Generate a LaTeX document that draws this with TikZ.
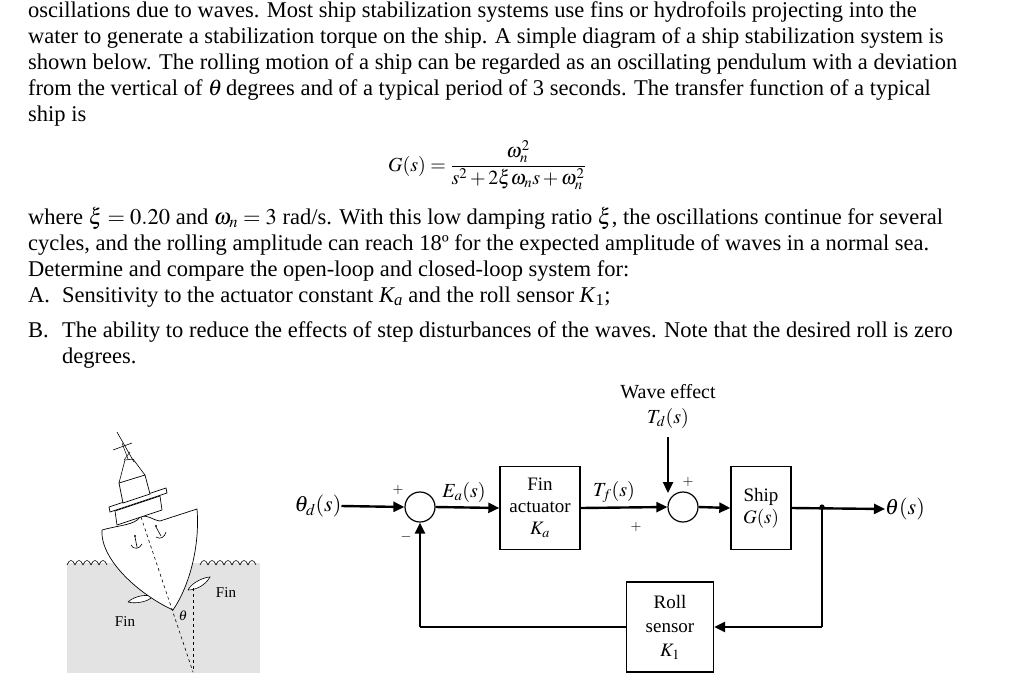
\documentclass[tikz,border=0pt]{standalone}
\usepackage{mathptmx}
\usepackage{fontspec}
\setmainfont{Liberation Serif}
\usetikzlibrary{arrows.meta}
\begin{document}
\begin{tikzpicture}[x=1pt,y=-1pt,
  txt/.style={anchor=base west,inner sep=0pt,font=\fontsize{22.5}{25}\selectfont},
  dtxt/.style={inner sep=0pt,font=\fontsize{20}{22}\selectfont},
  blk/.style={draw,line width=1.4pt,align=center,inner sep=0pt,font=\fontsize{19}{22}\selectfont},
  sumc/.style={draw,circle,minimum size=30pt,inner sep=0pt,line width=1.2pt},
  sig/.style={line width=2.4pt,-{Triangle[length=11pt,width=10pt]}},
  ln/.style={line width=2.4pt}]
\useasboundingbox (0,0) rectangle (1024,688);
\fill[white] (0,0) rectangle (1024,688);
% paragraph
\node[txt] (l1) at (28,17) {oscillations due to waves. Most ship stabilization systems use fins or hydrofoils projecting into the};
\node[txt] (l2) at (28,43) {water to generate a stabilization torque on the ship. A simple diagram of a ship stabilization system is};
\node[txt] (l3) at (28,69) {shown below. The rolling motion of a ship can be regarded as an oscillating pendulum with a deviation};
\node[txt] (l4) at (28,95) {from the vertical of $\theta$\,degrees and of a typical period of 3 seconds. The transfer function of a typical};
\node[txt] (l5) at (28,121) {ship is};
\node[txt,font=\fontsize{20}{22}\selectfont] (eq) at (388,171) {$\displaystyle G(s)=\frac{\omega_n^2}{s^2+2\xi\omega_n s+\omega_n^2}$};
\node[txt] (l6) at (28,224) {where $\xi=0.20$ and $\omega_n=3$ rad/s. With this low damping ratio $\xi$, the oscillations continue for several};
\node[txt] (l7) at (28,250) {cycles, and the rolling amplitude can reach 18º for the expected amplitude of waves in a normal sea.};
\node[txt] (l8) at (28,276) {Determine and compare the open-loop and closed-loop system for:};
\node[txt] (l9) at (28,302) {A.};
\node[txt] (l9b) at (62,302) {Sensitivity to the actuator constant \textit{K\textsubscript{a}} and the roll sensor \textit{K}\textsubscript{1};};
\node[txt] (l10) at (28,337) {B.};
\node[txt] (l10b) at (62,337) {The ability to reduce the effects of step disturbances of the waves. Note that the desired roll is zero};
\node[txt] (l11) at (62,363) {degrees.};
% ship picture
\fill[gray!22] (67,563) rectangle (260,673);
\foreach \x in {67,75,...,99}{\draw[line width=0.6pt] (\x,565) .. controls (\x+2,559) and (\x+6,559) .. (\x+8,565);}
\foreach \x in {200,208,...,252}{\draw[line width=0.6pt] (\x,565) .. controls (\x+2,559) and (\x+6,559) .. (\x+8,565);}
% fins
\draw[fill=white,line width=0.6pt] (128,602) .. controls (135,595) and (150,594) .. (152,597) .. controls (148,602) and (135,604) .. (128,602);
\draw[fill=white,line width=0.6pt] (188,590) .. controls (192,582) and (205,577) .. (210,577) .. controls (205,586) and (195,590) .. (188,590);
% hull
\draw[fill=white,line width=0.7pt] (102,530) .. controls (100,560) and (140,595) .. (173,610)
  .. controls (190,585) and (200,545) .. (197,509) -- (160,521) .. controls (152,520) and (148,514) .. (140,517) .. controls (135,525) and (120,525) .. (102,530);
% superstructure
\draw[fill=white,line width=0.7pt] (115,511) -- (117,525) -- (162,510) -- (160,496) -- cycle;
\draw[fill=white,line width=0.7pt] (109,507) -- (110,512) -- (167,493) -- (166,488) -- cycle;
\draw[fill=white,line width=0.7pt] (119,483) -- (123,503) -- (150,494) -- (145,475) -- cycle;
\draw[line width=0.6pt] (119,483) -- (125,460) -- (133,459) -- (145,475);
\draw[line width=0.6pt] (117,432) -- (134,462);
\draw[line width=0.6pt] (113,450) -- (132,443);
\draw[line width=0.5pt] (122,443) -- (128,459) (130,452)--(124,460);
% anchors
\draw[line width=0.6pt] (135,537) -- (137,547) (131,545) .. controls (133,550) and (140,549) .. (142,544);
\draw[line width=0.6pt] (156,527) -- (161,536) (156,537) .. controls (160,540) and (165,537) .. (166,532);
\fill (135,536) circle (1.2pt) (156,526) circle (1.2pt);
% dashed lines
\draw[dashed,line width=0.6pt] (141,517) -- (193,672);
\draw[dashed,line width=0.6pt] (193,588) -- (193,672);
\node[dtxt,font=\fontsize{15}{16}\selectfont] (fin1) at (125,622) {Fin};
\node[dtxt,font=\fontsize{15}{16}\selectfont] (fin2) at (226,593) {Fin};
\node[dtxt,font=\fontsize{14}{16}\selectfont] (th) at (183,616) {$\theta$};
% block diagram
\node[dtxt] (wave) at (668,392) {Wave effect};
\node[dtxt] (td) at (668,418) {$T_d(s)$};
\coordinate (tdtop) at (668,437);
\node[sumc] (s1) at (420,507) {};
\node[sumc] (s2) at (683,507) {};
\node[blk,minimum width=80pt,minimum height=83pt] (fin) at (540,508) {Fin\\actuator\\$K_a$};
\node[blk,minimum width=60pt,minimum height=83pt] (ship) at (761,508) {Ship\\$G(s)$};
\node[blk,minimum width=87pt,minimum height=90pt] (roll) at (670,627) {Roll\\[2pt]sensor\\[2pt]$K_1$};
\node[dtxt,font=\fontsize{22}{24}\selectfont] (thd) at (318,506) {$\theta_d(s)$};
\node[dtxt,font=\fontsize{22}{24}\selectfont] (tho) at (905,509) {$\theta(s)$};
\coordinate (j) at (822,507);
\coordinate (jb) at (822,627);
\coordinate (fb) at (420,627);
\coordinate (s2top) at (668,493);
\draw[sig] (thd.east) -- (s1.west);
\draw[sig] (s1.east) -- (fin.west);
\draw[sig] (fin.east) -- (s2.west);
\draw[sig] (s2.east) -- (ship.west);
\draw[sig] (ship.east) -- (tho.west);
\draw[sig] (tdtop) -- (s2top);
\draw[ln] (j) -- (jb);
\draw[sig] (jb) -- (roll.east);
\draw[ln] (roll.west) -- (fb);
\draw[sig] (fb) -- (s1.south);
\fill (j) circle (2.6pt);
\node[dtxt,font=\fontsize{14}{15}\selectfont] (p1) at (398,490) {$+$};
\node[dtxt,font=\fontsize{14}{15}\selectfont] (m1) at (406,537) {$-$};
\node[dtxt] (ea) at (464,492) {$E_a(s)$};
\node[dtxt] (tf) at (614,492) {$T_f(s)$};
\node[dtxt,font=\fontsize{14}{15}\selectfont] (p2) at (688,482) {$+$};
\node[dtxt,font=\fontsize{14}{15}\selectfont] (p3) at (636,527) {$+$};
\end{tikzpicture}
\end{document}
